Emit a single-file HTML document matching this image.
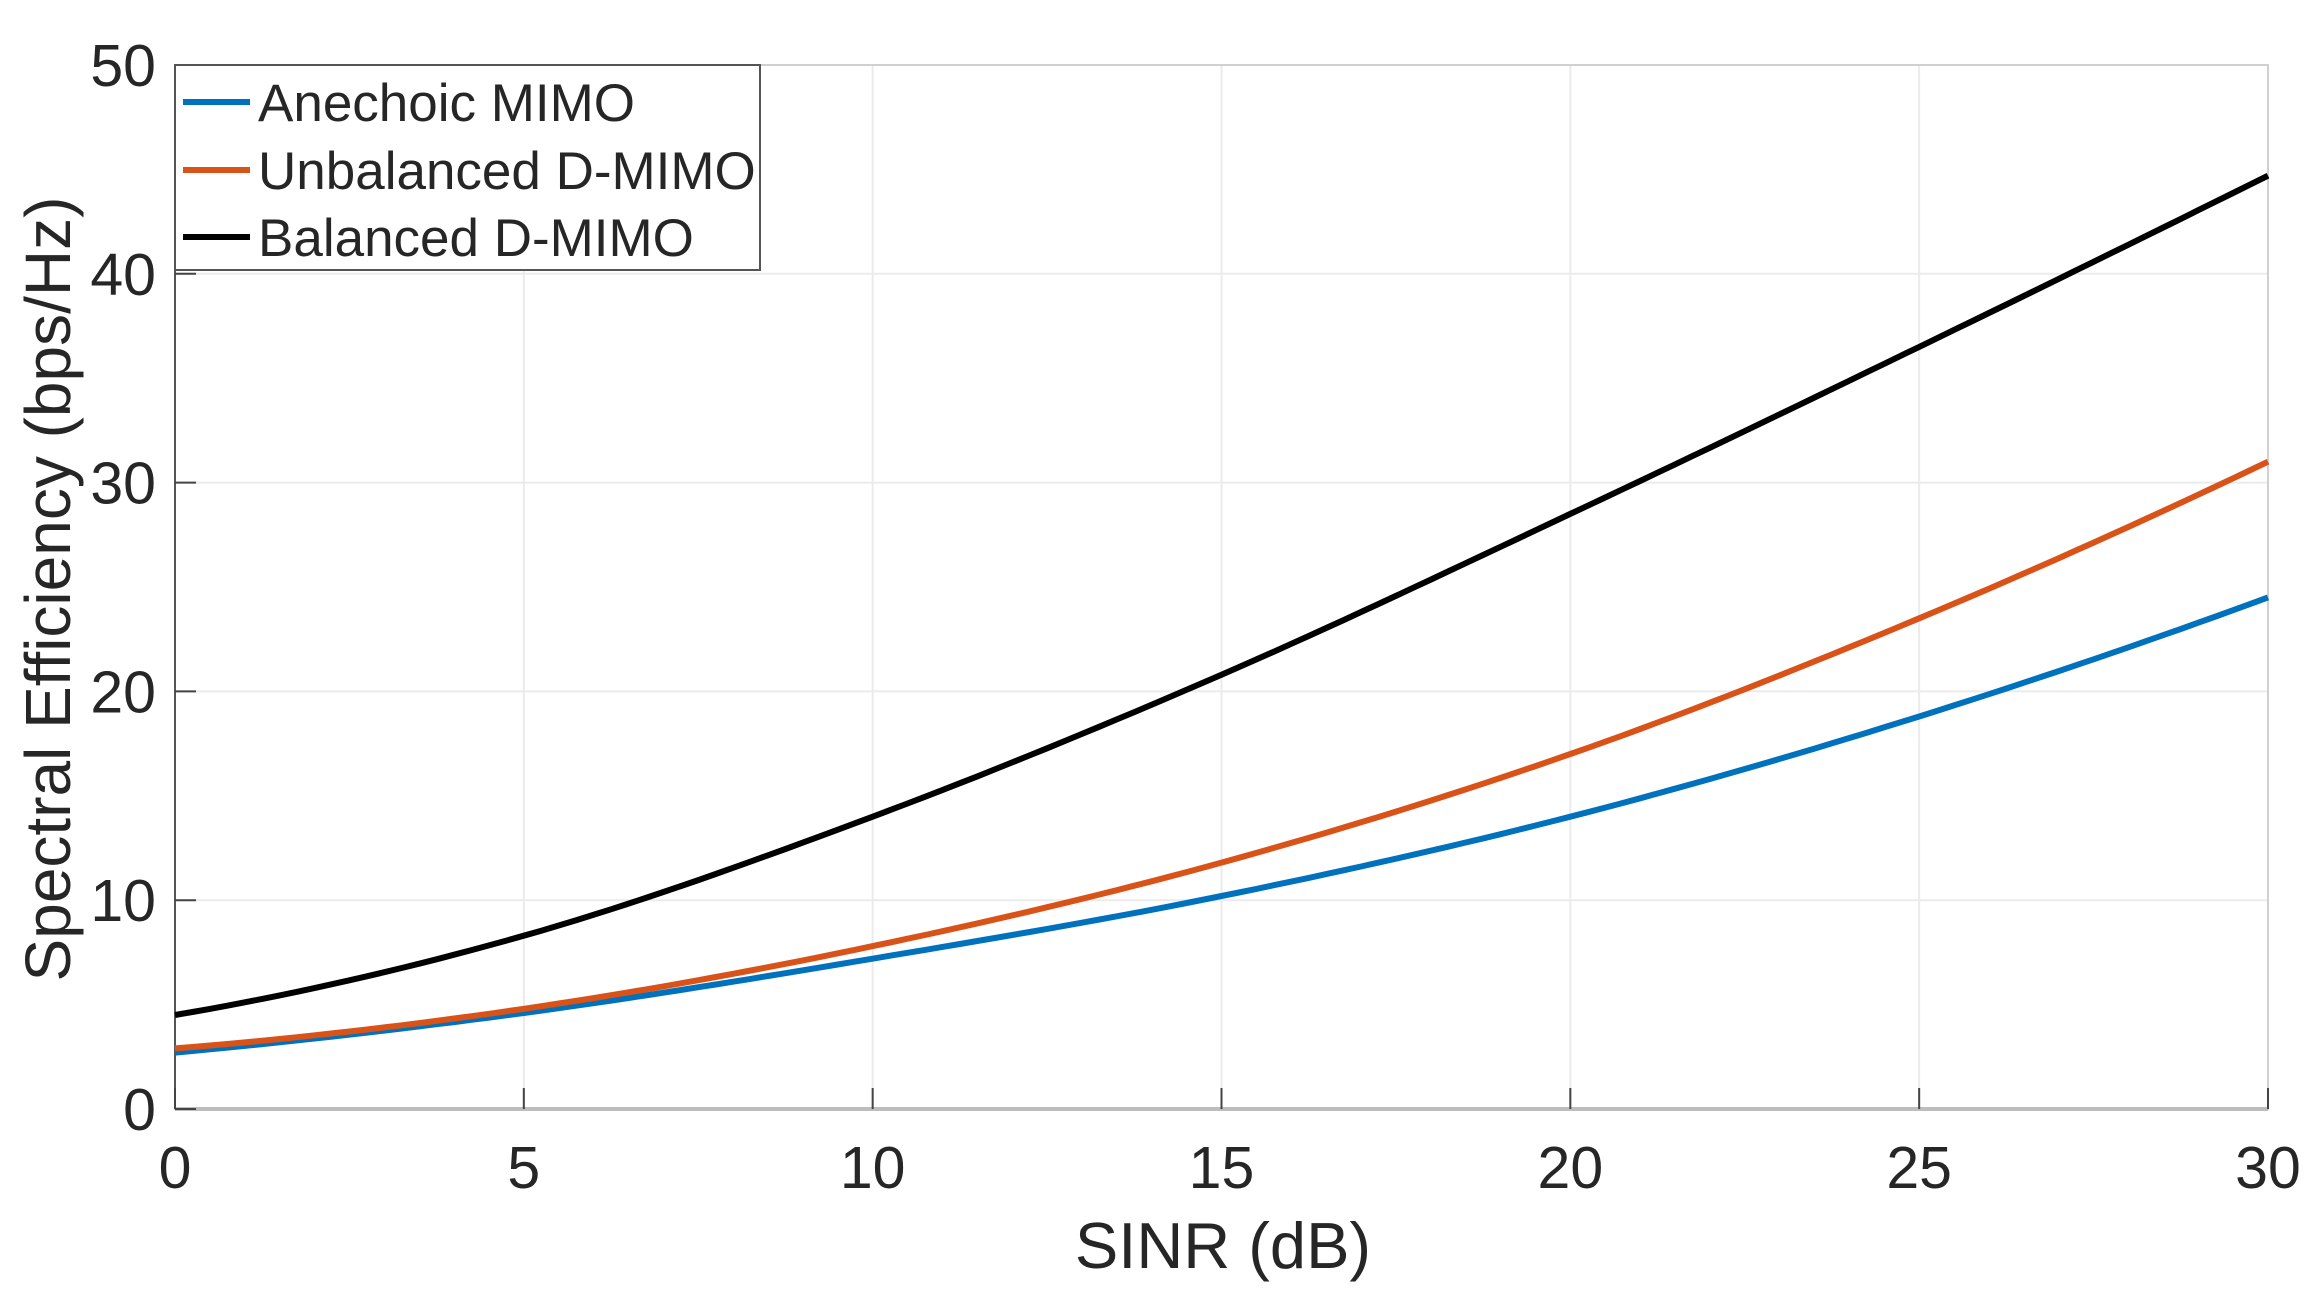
<!DOCTYPE html>
<html><head><meta charset="utf-8"><style>
html,body{margin:0;padding:0;background:#fff;}
svg{display:block;}
text{font-family:"Liberation Sans",Arial,sans-serif;fill:#262626;}
</style></head><body>
<svg id="s" width="2310" height="1304" viewBox="0 0 2310 1304" xmlns="http://www.w3.org/2000/svg">
<rect width="2310" height="1304" fill="#fff"/>
<g id="grid" stroke="#ebebeb" stroke-width="2"></g>
<rect x="175" y="65" width="2093" height="1044" fill="none" stroke="#d0d0d0" stroke-width="2"/>
<line x1="175" y1="65" x2="175" y2="1109" stroke="#555" stroke-width="2"/>
<line x1="175" y1="1109" x2="2268" y2="1109" stroke="#bdbdbd" stroke-width="4"/>
<g id="ticks" stroke="#444" stroke-width="2"></g>
<g id="labels" font-size="59"></g>
<g id="curves" fill="none" stroke-width="6" stroke-linejoin="round"></g>
<text x="1223" y="1268" font-size="65" text-anchor="middle">SINR (dB)</text>
<text transform="translate(70,589) rotate(-90)" font-size="64" text-anchor="middle">Spectral Efficiency (bps/Hz)</text>
<rect x="175" y="65" width="585" height="205" fill="#fff" stroke="#555" stroke-width="2"/>
<line x1="183" y1="102" x2="250" y2="102" stroke="#0072BD" stroke-width="6"/>
<line x1="183" y1="170" x2="250" y2="170" stroke="#D95319" stroke-width="6"/>
<line x1="183" y1="237" x2="250" y2="237" stroke="#000" stroke-width="6"/>
<text x="258" y="121" font-size="53" fill="#000">Anechoic MIMO</text>
<text x="258" y="189" font-size="53" fill="#000">Unbalanced D-MIMO</text>
<text x="258" y="256" font-size="53" fill="#000">Balanced D-MIMO</text>
</svg>
<script>
var NS="http://www.w3.org/2000/svg";
function X(s){return 175+s*2093/30;}
function Y(v){return 1109-v*20.88;}
function el(p,t,a,txt){var e=document.createElementNS(NS,t);for(var k in a)e.setAttribute(k,a[k]);if(txt!==undefined)e.textContent=txt;document.getElementById(p).appendChild(e);}
for(var s=5;s<=30;s+=5){el("grid","line",{x1:X(s),y1:65,x2:X(s),y2:1109});}
for(var v=10;v<=50;v+=10){el("grid","line",{x1:175,y1:Y(v),x2:2268,y2:Y(v)});}
for(var s=0;s<=30;s+=5){el("ticks","line",{x1:X(s),y1:1109,x2:X(s),y2:1088});el("labels","text",{x:X(s),y:1188,"text-anchor":"middle"},String(s));}
for(var v=0;v<=50;v+=10){el("ticks","line",{x1:175,y1:Y(v),x2:196,y2:Y(v)});el("labels","text",{x:156,y:Y(v)+21,"text-anchor":"end"},String(v));}
var data=[["#0072BD",[2.7,4.6,7.2,10.2,14,18.8,24.5]],["#D95319",[2.9,4.8,7.8,11.8,17,23.5,31]],["#000000",[4.5,8.3,14,20.8,28.5,36.5,44.7]]];
data.forEach(function(d){var q=d[1];
 var p=[3*q[0]-3*q[1]+q[2]].concat(q).concat([3*q[6]-3*q[5]+q[4]]);
 var pts=[];
 for(var i=1;i<7;i++){var p0=p[i-1],p1=p[i],p2=p[i+1],p3=p[i+2];
  for(var t=0;t<1;t+=0.05){var t2=t*t,t3=t2*t;
   var v=0.5*((2*p1)+(-p0+p2)*t+(2*p0-5*p1+4*p2-p3)*t2+(-p0+3*p1-3*p2+p3)*t3);
   pts.push(X(5*(i-1+t)).toFixed(1)+","+Y(v).toFixed(1));}}
 pts.push(X(30)+","+Y(q[6]));
 el("curves","polyline",{points:pts.join(" "),stroke:d[0]});});
</script>
</body></html>
